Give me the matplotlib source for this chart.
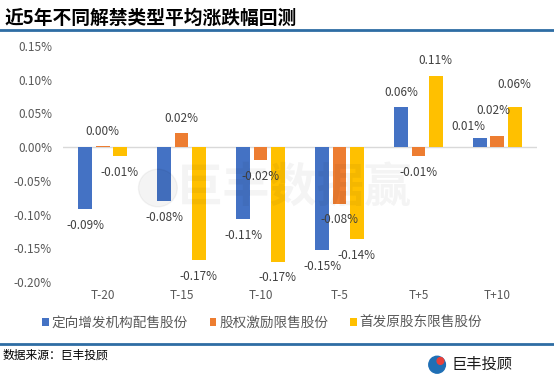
import numpy as np
import matplotlib
matplotlib.use("Agg")
import matplotlib.pyplot as plt
from matplotlib.patches import Ellipse

plt.rcParams['font.family'] = ['Noto Sans CJK SC', 'DejaVu Sans']

categories = ["T-20", "T-15", "T-10", "T-5", "T+5", "T+10"]
series_names = ["定向增发机构配售股份", "股权激励限售股份", "首发原股东限售股份"]
placement = [-0.092, -0.080, -0.107, -0.153, 0.059, 0.014]
incentive = [0.001, 0.021, -0.019, -0.084, -0.013, 0.016]
ipo_holders = [-0.013, -0.168, -0.170, -0.137, 0.106, 0.060]
yticks = [-0.20, -0.15, -0.10, -0.05, 0.00, 0.05, 0.10, 0.15]

colors = ["#4472C4", "#ED7D31", "#FFC000"]
label_color = "#404040"

# hand-moved labels for the crowded T+10 group (series, category) -> (dx, dy) in points
label_shift = {(0, 5): (-8, -3), (1, 5): (-3, 8), (2, 5): (0, 5)}

fig = plt.figure(figsize=(5.54, 3.76), dpi=100)
ax = fig.add_axes([0.114, 0.25, 0.855, 0.628])

x = np.arange(len(categories))
width = 0.175
step = 0.22
for i, (vals, c, name) in enumerate(zip([placement, incentive, ipo_holders], colors, series_names)):
    xs = x + (i - 1) * step
    ax.bar(xs, vals, width=width, color=c, label=name, zorder=3)
    for j, (xi, v) in enumerate(zip(xs, vals)):
        txt = f"{round(v, 2):.2f}%".replace("-0.00", "0.00")
        dx, dy = label_shift.get((i, j), (0, 0))
        if v >= 0:
            ax.annotate(txt, (xi, v), xytext=(dx, 6 + dy), textcoords="offset points",
                        ha="center", va="bottom", fontsize=8.5, color=label_color, zorder=5)
        else:
            ax.annotate(txt, (xi, v), xytext=(dx, -7 + dy), textcoords="offset points",
                        ha="center", va="top", fontsize=8.5, color=label_color, zorder=5)

ax.axhline(0, color="#D9D9D9", lw=1, zorder=2)
ax.set_xlim(-0.5, len(categories) - 0.5)
ax.set_ylim(-0.20, 0.15)
ax.set_yticks(yticks)
ax.set_yticklabels([f"{t:.2f}%" for t in yticks], fontsize=8.5, color="#595959")
ax.set_xticks(x)
ax.set_xticklabels(categories, fontsize=8.5, color="#595959")
ax.tick_params(length=0, pad=8)
ax.tick_params(axis="x", pad=5)
for s in ax.spines.values():
    s.set_visible(False)

# watermark
fig.text(0.53, 0.50, "巨丰数据赢", fontsize=34, color="#000000", alpha=0.045,
         ha="center", va="center", fontweight="bold")
fig.add_artist(Ellipse((0.285, 0.50), 0.07, 0.10, transform=fig.transFigure,
                       color="#000000", alpha=0.045))

leg = ax.legend(loc="upper center", bbox_to_anchor=(0.42, -0.09), ncol=3,
                frameon=False, fontsize=9.8, handlelength=0.5, handleheight=0.5,
                handletextpad=0.2, columnspacing=1.6)
for t in leg.get_texts():
    t.set_color("#595959")

# title and footer
fig.text(0.008, 0.952, "近5年不同解禁类型平均涨跌幅回测", fontsize=13.5, fontweight="bold",
         ha="left", va="center", color="#000000")
fig.add_artist(plt.Line2D([0, 1], [0.92, 0.92], color="#2E6DA4", lw=2))
fig.add_artist(plt.Line2D([0, 1], [0.085, 0.085], color="#2E6DA4", lw=2))
fig.text(0.005, 0.056, "数据来源：巨丰投顾", fontsize=8.5, ha="left", va="center", color="#000000")
fig.text(0.925, 0.03, "巨丰投顾", fontsize=11, ha="right", va="center", color="#1a1a1a")
fig.add_artist(Ellipse((0.789, 0.03), 0.03, 0.045, transform=fig.transFigure, color="#1F6FB5"))
fig.add_artist(Ellipse((0.795, 0.04), 0.012, 0.018, transform=fig.transFigure, color="#E8403A"))

fig.savefig("out.png", dpi=100)
